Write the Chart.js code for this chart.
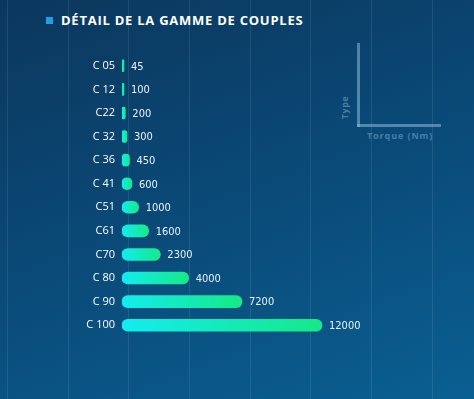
<!DOCTYPE html>
<html>
<head>
<meta charset="utf-8">
<script src="https://cdn.jsdelivr.net/npm/chart.js@4"></script>
<style>
  html, body { margin: 0; padding: 0; }
  body {
    width: 474px; height: 399px; overflow: hidden; position: relative;
    background:
      repeating-linear-gradient(to right, rgba(255,255,255,0.09) 0 1px, transparent 1px 60.7px) 7px 0 / 100% 100% no-repeat,
      linear-gradient(160deg, #0b375d 0%, #0a4a78 50%, #0a5f92 100%);
    font-family: "Open Sans", sans-serif;
  }
  .title {
    position: absolute; left: 46px; top: 11px; color: #fff; white-space: nowrap;
    font: 700 13px "Open Sans", sans-serif; letter-spacing: 0.75px;
  }
  .title span {
    display: inline-block; width: 7px; height: 7px; background: #1e9fe6;
    margin-right: 8px; vertical-align: 1px;
  }
  canvas { position: absolute; left: 0; top: 0; }
  .key { position: absolute; left: 0; top: 0; }
  .key .v { position: absolute; left: 357px; top: 43px; width: 3px; height: 84px; background: rgba(140,185,220,0.55); }
  .key .h { position: absolute; left: 357px; top: 124px; width: 84px; height: 3px; background: rgba(140,185,220,0.55); }
  .key .ty { position: absolute; left: 333px; top: 101px; transform: rotate(-90deg); color: rgba(130,175,210,0.55); font: 700 9px "Open Sans", sans-serif; letter-spacing: 0.5px; white-space: nowrap; }
  .key .tq { position: absolute; left: 367px; top: 129px; color: rgba(130,175,210,0.55); font: 700 9px "Open Sans", sans-serif; letter-spacing: 0.9px; white-space: nowrap; }
</style>
</head>
<body>
<div class="title"><span></span>DÉTAIL DE LA GAMME DE COUPLES</div>
<div class="key">
  <div class="v"></div><div class="h"></div>
  <div class="ty">Type</div>
  <div class="tq">Torque (Nm)</div>
</div>
<canvas id="chart" width="474" height="399"></canvas>
<script>
const types = ['C 05', 'C 12', 'C22', 'C 32', 'C 36', 'C 41', 'C51', 'C61', 'C70', 'C 80', 'C 90', 'C 100'];
const torques = [45, 100, 200, 300, 450, 600, 1000, 1600, 2300, 4000, 7200, 12000];

// value labels right of each bar
const valueLabels = {
  id: 'valueLabels',
  afterDatasetsDraw(chart) {
    const ctx = chart.ctx;
    const meta = chart.getDatasetMeta(0);
    ctx.save();
    ctx.fillStyle = '#e8f2fa';
    ctx.font = '11px "Liberation Sans Narrow", "DejaVu Sans Condensed", sans-serif';
    ctx.textBaseline = 'middle';
    meta.data.forEach((bar, i) => {
      ctx.fillText(torques[i], Math.max(bar.x, bar.base + 2) + 7, bar.y + 1);
    });
    ctx.restore();
  }
};

function barGradient(context) {
  const chart = context.chart;
  const x = chart.scales.x;
  if (!x || !chart.chartArea) return '#1de9c0';
  const x0 = x.getPixelForValue(0);
  const x1 = x.getPixelForValue(torques[context.dataIndex]);
  const g = chart.ctx.createLinearGradient(x0, 0, Math.max(x1, x0 + 1), 0);
  g.addColorStop(0, '#12ecef');
  g.addColorStop(1, '#14ea86');
  return g;
}

new Chart(document.getElementById('chart'), {
  type: 'bar',
  data: {
    labels: types,
    datasets: [{
      data: torques,
      backgroundColor: barGradient,
      borderRadius: 6,
      borderSkipped: false,
      barThickness: 12,
      minBarLength: 2
    }]
  },
  options: {
    indexAxis: 'y',
    responsive: false,
    animation: false,
    layout: { padding: { top: 54, bottom: 62, left: 0, right: 32 } },
    scales: {
      x: { display: false, min: 0, max: 19200 },
      y: {
        grid: { display: false, drawTicks: false },
        border: { display: false },
        afterFit(scale) { scale.width = 122; },
        ticks: {
          color: '#ffffff',
          padding: 7,
          font: { family: 'Open Sans', size: 11, weight: '500' }
        }
      }
    },
    plugins: {
      legend: { display: false },
      tooltip: { enabled: false }
    }
  },
  plugins: [valueLabels]
});
</script>
</body>
</html>
